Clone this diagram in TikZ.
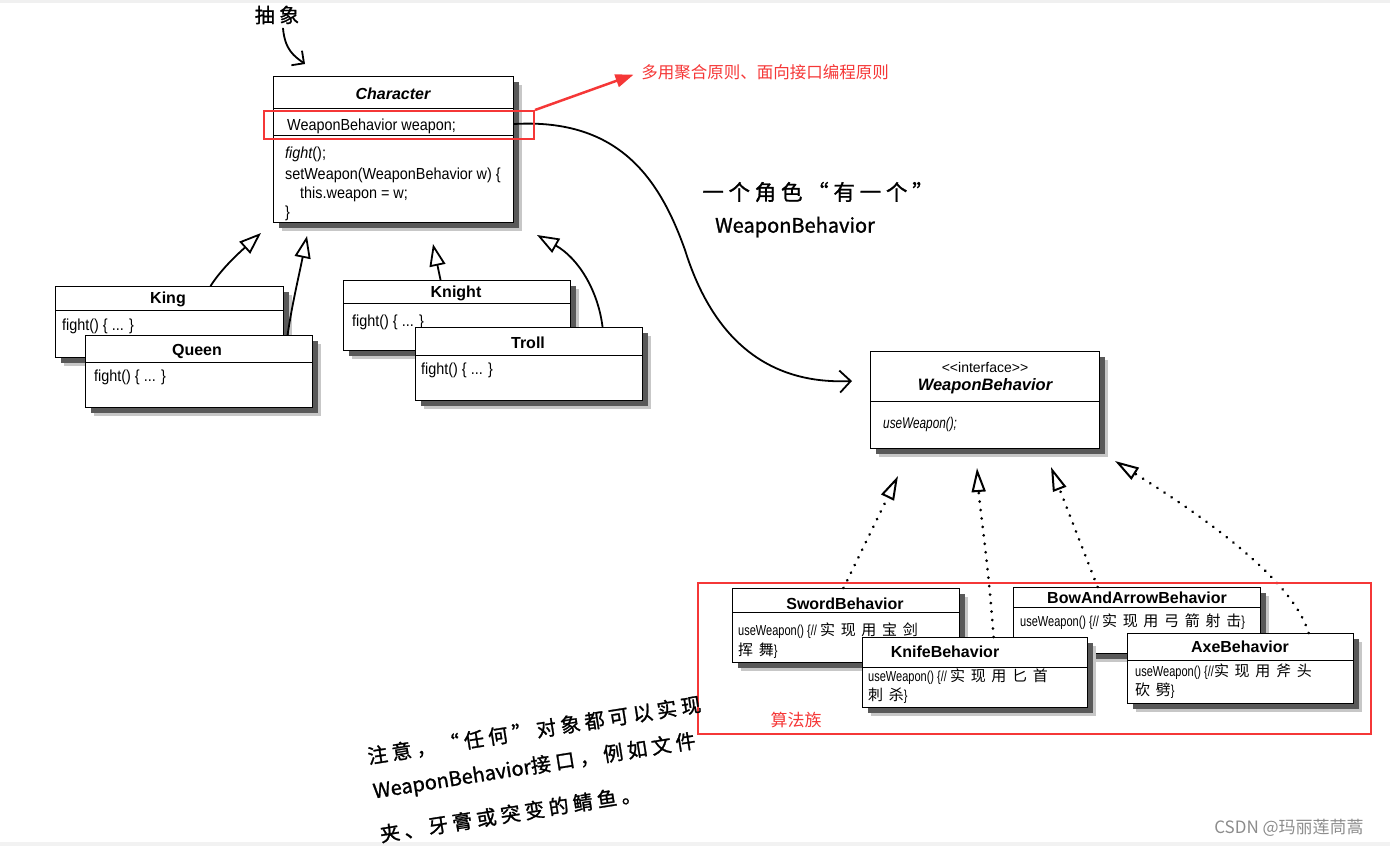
\documentclass[tikz,border=0pt]{standalone}
\usepackage{fontspec}
\setmainfont{Liberation Sans}
\newfontfamily\umlf[FakeStretch=0.9]{Liberation Sans}
\newfontfamily\methf[FakeStretch=0.76]{Liberation Sans}
\newfontfamily\plainf[Mapping=]{Liberation Sans}
\newfontfamily\zh{Noto Sans CJK SC}
\newfontfamily\zhsp[LetterSpace=38]{Noto Sans CJK SC}
\newfontfamily\handzh[LetterSpace=22,FakeBold=1.2]{Noto Sans CJK SC}
\newfontfamily\handlat[FakeBold=1.2]{Noto Sans CJK SC}
\usetikzlibrary{arrows.meta,shadows}
\definecolor{csdnred}{RGB}{245,55,55}
\newcommand\cj[1]{{\fontsize{15}{17}\zhsp #1}}
\tikzset{
  umlbox/.style={draw, line width=1.1pt, fill=white, anchor=north west, inner sep=0pt,
    drop shadow={shadow xshift=8pt, shadow yshift=-8pt, fill=black!22, opacity=1},
    drop shadow={shadow xshift=5pt, shadow yshift=-5pt, fill=black!65, opacity=1}},
  divider/.style={line width=0.9pt},
  title/.style={font=\fontsize{16}{18}\selectfont\bfseries, inner sep=0pt},
  ititle/.style={font=\fontsize{16}{18}\selectfont\bfseries\itshape, inner sep=0pt},
  member/.style={font=\fontsize{16}{18}\umlf, anchor=base west, inner sep=0pt},
  meth/.style={font=\fontsize{14.5}{16}\methf, anchor=base west, inner sep=0pt},
  inherit/.style={line width=1.8pt, line cap=round, -{Triangle[open, length=22pt, width=16pt, line width=1.8pt]}},
  realize/.style={line width=3pt, line cap=round, dash pattern=on 0.01pt off 8.5pt,
    -{Triangle[open, length=24pt, width=14pt, line width=2pt]}},
  hand/.style={line width=1.8pt, line cap=round},
  handtxt/.style={font=\fontsize{21.5}{24}\handzh, inner sep=0pt},
  note/.style={font=\fontsize{20}{35}\handzh, inner sep=0pt, rotate=9, align=left, anchor=north west},
  redtxt/.style={text=csdnred, inner sep=0pt},
}
\begin{document}
\begin{tikzpicture}[x=1pt,y=-1pt]
\useasboundingbox (0,0) rectangle (1390,846);
\fill[black!6] (0,0) rectangle (1390,3);
\fill[black!5] (0,842) rectangle (1390,846);

% ---------- Character ----------
\node[umlbox, minimum width=240pt, minimum height=146pt] (char) at (273,76) {};
\draw[divider] ([yshift=-32pt]char.north west) -- ([yshift=-32pt]char.north east);
\draw[divider] ([yshift=-59pt]char.north west) -- ([yshift=-59pt]char.north east);
\node[ititle] (char-name) at (393,94) {Character};
\node[member] (char-attr) at (287,130) {WeaponBehavior weapon;};
\node[member] (char-m1) at (285,158) {{\itshape fight}();};
\node[member] (char-m2) at (285,179) {setWeapon(WeaponBehavior w) \{};
\node[member] (char-m3) at (300,198) {this.weapon = w;};
\node[member] (char-m4) at (285,217) {\}};

% ---------- subclasses ----------
\node[umlbox, minimum width=228pt, minimum height=71pt] (king) at (55,286) {};
\draw[divider] ([yshift=-24pt]king.north west) -- ([yshift=-24pt]king.north east);
\node[title] (king-name) at (168,299) {King};
\node[member] (king-m) at (62,330) {fight() \{ ... \}};

\node[umlbox, minimum width=227pt, minimum height=72pt] (queen) at (85,335) {};
\draw[divider] ([yshift=-27pt]queen.north west) -- ([yshift=-27pt]queen.north east);
\node[title] (queen-name) at (197,351) {Queen};
\node[member] (queen-m) at (94,381) {fight() \{ ... \}};

\node[umlbox, minimum width=227pt, minimum height=70pt] (knight) at (343,280) {};
\draw[divider] ([yshift=-23pt]knight.north west) -- ([yshift=-23pt]knight.north east);
\node[title] (knight-name) at (456,293) {Knight};
\node[member] (knight-m) at (352,326) {fight() \{ ... \}};

\node[umlbox, minimum width=227pt, minimum height=73pt] (troll) at (415,327) {};
\draw[divider] ([yshift=-28pt]troll.north west) -- ([yshift=-28pt]troll.north east);
\node[title] (troll-name) at (528,343) {Troll};
\node[member] (troll-m) at (421,374) {fight() \{ ... \}};

% inheritance arrows
\coordinate (kingtip) at (261,233);
\coordinate (queentip) at (307,236);
\coordinate (knighttip) at (433,244);
\coordinate (trolltip) at (537,235);
\draw[inherit] ([xshift=41pt]king.north) .. controls (222,268) and (240,252) .. (kingtip);
\draw[inherit] ([xshift=88.5pt]queen.north) .. controls (292,305) and (298,280) .. (queentip);
\draw[inherit] ([xshift=-16.5pt]knight.north) -- (knighttip);
\draw[inherit] ([xshift=73.5pt]troll.north) .. controls (598,290) and (578,258) .. (trolltip);

% ---------- interface ----------
\node[umlbox, minimum width=229pt, minimum height=97pt] (wb) at (870,351) {};
\draw[divider] ([yshift=-50pt]wb.north west) -- ([yshift=-50pt]wb.north east);
\node[font=\fontsize{14}{16}\plainf, inner sep=0pt] (wb-st) at (985,367)
  {<\kern0pt<interface>\kern0pt>};
\node[ititle, font=\fontsize{16.5}{18}\selectfont\bfseries\itshape] (wb-name) at (985,386) {WeaponBehavior};
\node[meth, font=\fontsize{15.5}{17}\methf\itshape] (wb-m) at (883,428) {useWeapon();};

% ---------- behaviours ----------
\coordinate (t1) at (898,476);
\coordinate (t2) at (977,468);
\coordinate (t3) at (1051,467);
\coordinate (t4) at (1115,461);

\node[umlbox, minimum width=227pt, minimum height=74pt] (sword) at (732,588) {};
\draw[divider] ([yshift=-24pt]sword.north west) -- ([yshift=-24pt]sword.north east);
\node[title] (sword-name) at (845,604) {SwordBehavior};
\node[meth] (sword-m1) at (738,635) {useWeapon() \{// \cj{实现用宝剑}};
\node[meth] (sword-m2) at (738,655) {\cj{挥舞}\}};

\node[umlbox, minimum width=247pt, minimum height=66pt] (bow) at (1013,587) {};
\draw[divider] ([yshift=-20pt]bow.north west) -- ([yshift=-20pt]bow.north east);
\node[title] (bow-name) at (1137,598) {BowAndArrowBehavior};
\node[meth] (bow-m1) at (1020,626) {useWeapon() \{// \cj{实现用弓箭射击}\}};

\node[umlbox, minimum width=225pt, minimum height=70pt] (knife) at (862,637) {};
\draw[divider] ([yshift=-30pt]knife.north west) -- ([yshift=-30pt]knife.north east);
\node[title] (knife-name) at (945,652) {KnifeBehavior};
\node[meth] (knife-m1) at (868,681) {useWeapon() \{// \cj{实现用匕首}};
\node[meth] (knife-m2) at (868,700) {\cj{刺杀}\}};

\node[umlbox, minimum width=226pt, minimum height=70pt] (axe) at (1127,633) {};
\draw[divider] ([yshift=-27pt]axe.north west) -- ([yshift=-27pt]axe.north east);
\node[title] (axe-name) at (1240,647) {AxeBehavior};
\node[meth] (axe-m1) at (1135,676) {useWeapon() \{//\cj{实现用斧头}};
\node[meth] (axe-m2) at (1135,695) {\cj{砍劈}\}};

\draw[realize] ([xshift=-2.5pt]sword.north) -- (t1);
\draw[realize] ([xshift=18.5pt]knife.north) .. controls (988,560) and (980,510) .. (t2);
\draw[realize] ([xshift=-39.5pt]bow.north) -- (t3);
\draw[realize] ([xshift=68pt]axe.north) .. controls (1292,575) and (1185,505) .. (t4);

% ---------- has-a connector ----------
\coordinate (wbin) at (852,381);
\draw[hand, -{Straight Barb[length=11pt, width=22pt, line width=1.8pt]}]
  ([yshift=-48pt]char.north east) .. controls (620,118) and (660,180) .. (685,250)
  .. controls (710,330) and (760,385) .. (wbin);
\node[handtxt] (hasa1) at (818,192) {一个角色“有一个”};
\node[font=\fontsize{20}{22}\handlat, inner sep=0pt] (hasa2) at (795,227) {WeaponBehavior};

% ---------- abstract label ----------
\node[font=\fontsize{20}{22}\handzh, inner sep=0pt] (abs) at (277,15) {抽象};
\coordinate (abstip) at (305,64);
\draw[hand, -{Straight Barb[length=9pt, width=18pt, line width=1.8pt]}]
  ([xshift=6pt,yshift=-4pt]abs.south) .. controls (285,50) and (294,56) .. (abstip);

% ---------- red annotations ----------
\node[draw=csdnred, line width=2pt, anchor=north west, inner sep=0pt,
      minimum width=270pt, minimum height=28pt] (hl) at (263,110) {};
\node[redtxt, font=\fontsize{16.5}{18}\zh] (principle) at (765,72) {多用聚合原则、面向接口编程原则};
\draw[csdnred, line width=2.5pt, shorten >=8pt, -{Triangle[length=18pt, width=13pt]}]
  (hl.north east) -- (principle.west);

\node[draw=csdnred, line width=2pt, anchor=north west, inner sep=0pt,
      minimum width=673pt, minimum height=151pt] (family) at (697,582) {};
\node[redtxt, font=\fontsize{17}{19}\zh] (family-label) at (796,720) {算法族};

% ---------- note ----------
\node[note] (note) at (366,747)
  {注意，“任何”对象都可以实现\\
   {\handlat WeaponBehavior}接口，例如文件\\[9pt]
   夹、牙膏或突变的鲭鱼。};

% ---------- watermark ----------
\node[font=\fontsize{17}{19}\zh, text=black!45, inner sep=0pt] (wm) at (1289,828) {CSDN @玛丽莲茼蒿};
\end{tikzpicture}
\end{document}
